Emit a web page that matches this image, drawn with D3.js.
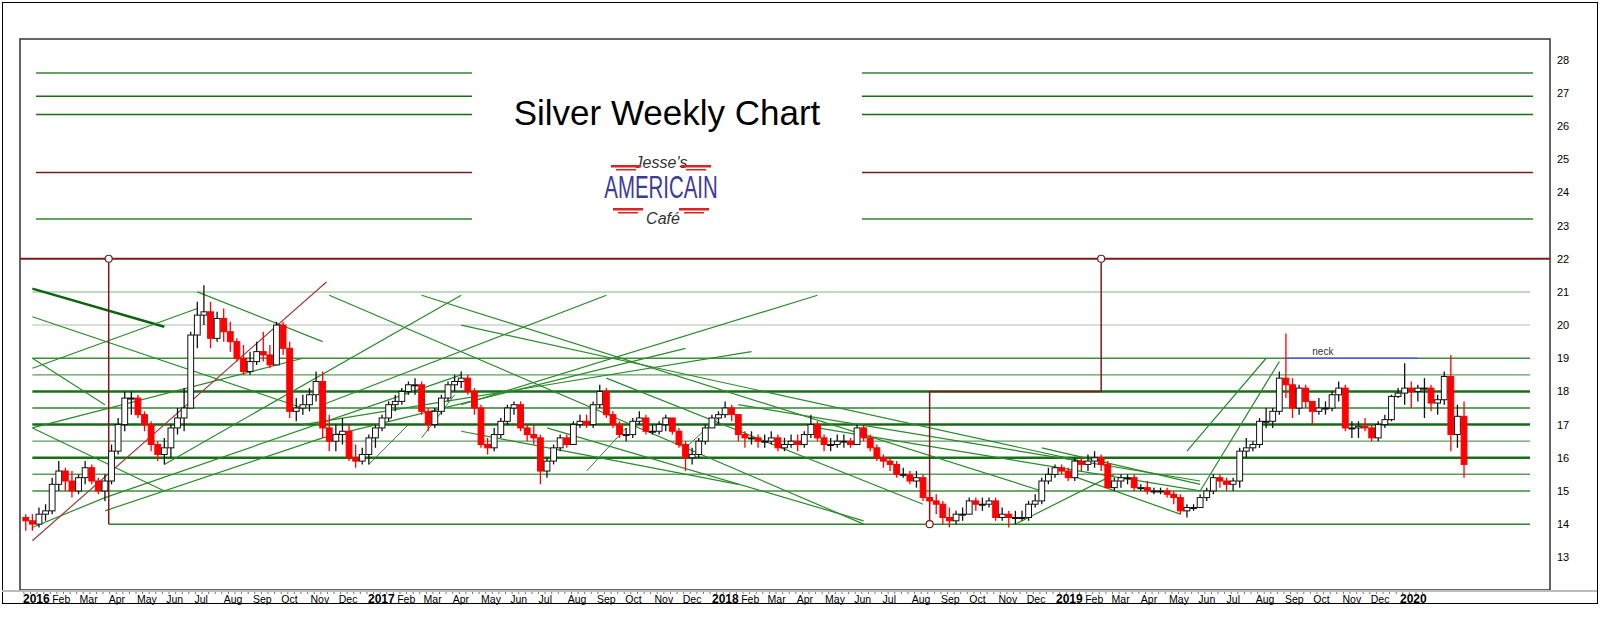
<!DOCTYPE html>
<html>
<head>
<meta charset="utf-8">
<script src="https://cdn.jsdelivr.net/npm/d3@7"></script>
<style>
  body { margin: 0; background: #fff; }
  text { font-family: "Liberation Sans", Arial, sans-serif; }
</style>
</head>
<body>
<div id="chart"></div>
<script>
// weekly closes, Jan 8 2016 .. Mar 13 2020 (Friday closes)
var closes = [
  14.1,14.0,14.3,14.4,15.2,15.6,15.3,15.0,15.4,15.7,15.3,15.0,15.3,16.2,17.0,17.8,17.8,17.3,17.0,16.4,16.1,16.3,16.9,17.2,17.5,19.7,20.3,20.4,19.6,20.2,19.8,19.5,19.0,18.6,18.9,19.2,19.1,18.8,20.0,19.3,17.4,17.5,17.6,17.9,18.3,16.9,16.5,16.7,16.8,16.0,15.9,16.1,
  16.6,16.9,17.2,17.6,17.7,18.0,18.2,18.2,17.4,17.0,17.4,17.8,18.2,18.3,18.4,18.0,17.5,16.4,16.3,16.7,17.1,17.5,17.6,16.9,16.7,16.6,15.6,15.9,16.3,16.6,16.4,17.0,17.1,17.0,17.6,18.0,17.3,17.0,16.7,16.7,17.1,17.2,16.8,16.8,17.0,17.2,16.8,16.4,16.0,16.1,16.5,16.9,
  17.2,17.3,17.5,17.3,16.7,16.6,16.6,16.5,16.5,16.6,16.3,16.4,16.5,16.4,16.7,17.0,16.6,16.4,16.4,16.5,16.5,16.4,16.9,16.6,16.3,16.0,15.9,15.8,15.5,15.5,15.3,15.4,14.8,14.7,14.6,14.2,14.1,14.3,14.3,14.7,14.6,14.6,14.7,14.2,14.3,14.2,14.2,14.2,14.6,14.7,15.3,15.5,
  15.7,15.6,15.4,15.9,15.8,15.9,16.0,15.8,15.1,15.3,15.4,15.4,15.1,15.1,15.0,15.0,15.0,14.9,14.8,14.4,14.5,14.5,14.8,15.0,15.4,15.3,15.2,15.3,16.2,16.3,16.4,17.1,17.1,17.4,18.4,18.2,17.5,18.1,17.7,17.4,17.5,17.5,17.9,18.1,16.9,16.9,16.95,16.9,16.6,17.0,17.15,17.85,
  17.95,18.1,18.0,18.1,18.1,17.65,17.75,18.45,16.7,17.25,15.8
];
var highs = [
  14.3,14.3,14.5,14.6,15.4,15.9,15.7,15.6,15.5,15.9,15.8,15.4,15.5,16.4,17.2,18.0,18.0,17.9,17.4,17.1,16.5,16.6,17.0,17.5,18.1,19.8,20.7,21.2,20.7,20.4,20.5,20.1,19.6,19.4,19.2,19.5,19.8,19.4,20.1,20.1,19.5,17.8,17.9,18.1,18.6,18.6,17.3,17.0,17.2,17.0,16.4,16.3,
  16.7,17.0,17.3,17.7,17.9,18.1,18.3,18.4,18.3,17.5,17.5,17.9,18.3,18.5,18.6,18.5,18.1,17.6,16.6,16.9,17.2,17.6,17.7,17.7,17.0,17.0,16.7,16.0,16.4,16.7,16.7,17.1,17.3,17.3,17.7,18.2,18.1,17.4,17.1,16.9,17.2,17.4,17.3,17.0,17.1,17.3,17.2,16.9,16.5,16.3,16.6,17.0,
  17.3,17.4,17.7,17.6,17.3,16.8,16.8,16.7,16.7,16.8,16.7,16.6,16.7,16.7,16.8,17.3,17.1,16.7,16.6,16.7,16.7,16.6,17.0,17.0,16.7,16.4,16.1,16.0,15.9,15.7,15.6,15.6,15.5,15.0,14.9,14.7,14.5,14.4,14.5,14.8,14.8,14.8,14.8,14.8,14.5,14.4,14.4,14.4,14.7,14.9,15.4,15.7,
  15.8,15.8,15.7,16.0,16.0,16.1,16.2,16.1,15.9,15.4,15.5,15.5,15.5,15.2,15.3,15.1,15.1,15.1,15.0,14.9,14.6,14.6,14.9,15.1,15.5,15.5,15.4,15.4,16.3,16.6,16.5,17.2,17.5,17.5,18.6,19.75,18.4,18.2,18.2,17.7,17.8,17.7,18.0,18.3,18.2,17.1,17.1,17.2,17.0,17.1,17.3,17.9,
  18.1,18.85,18.3,18.2,18.4,18.2,17.9,18.6,19.1,17.6,17.7
];
var lows = [
  13.8,13.8,13.9,14.1,14.3,15.0,15.0,14.8,14.9,15.2,15.2,14.9,14.7,15.2,16.1,16.8,17.3,17.2,16.8,16.2,15.9,15.8,16.0,16.7,16.8,17.5,19.3,20.0,19.3,19.5,19.5,19.2,18.9,18.5,18.5,18.8,18.9,18.7,18.8,19.1,17.2,17.1,17.3,17.4,17.7,16.6,16.2,16.2,16.4,15.9,15.7,15.8,
  15.8,16.3,16.8,17.1,17.4,17.6,17.9,17.9,17.3,16.8,16.9,17.3,17.7,18.0,18.1,17.9,17.3,16.3,16.1,16.2,16.6,17.0,17.3,16.8,16.5,16.4,15.2,15.4,15.8,16.2,16.3,16.4,16.9,16.9,16.9,17.5,17.2,16.9,16.6,16.5,16.6,17.0,16.7,16.7,16.7,16.8,16.7,16.3,15.6,15.8,16.0,16.4,
  16.9,17.0,17.2,17.1,16.5,16.3,16.4,16.3,16.3,16.4,16.2,16.2,16.3,16.2,16.3,16.6,16.5,16.2,16.2,16.3,16.3,16.3,16.4,16.5,16.2,15.9,15.7,15.6,15.4,15.4,15.2,15.1,14.7,14.6,14.3,14.0,13.9,14.0,14.1,14.3,14.4,14.4,14.5,14.1,14.1,13.9,14.0,14.1,14.1,14.5,14.6,15.2,
  15.4,15.5,15.3,15.3,15.6,15.6,15.7,15.6,15.1,15.0,15.1,15.2,15.0,15.0,14.9,14.9,14.9,14.8,14.6,14.3,14.2,14.4,14.5,14.7,14.9,15.1,15.0,15.0,15.1,16.0,16.2,16.3,16.9,16.9,17.3,17.8,17.2,17.3,17.5,17.0,17.3,17.3,17.4,17.7,16.8,16.6,16.6,16.8,16.5,16.5,16.9,17.1,
  17.8,17.6,17.5,17.7,17.2,17.4,17.3,17.6,16.2,16.3,15.4
];
var firstOpen = 14.2;
var lastDate = new Date(2020, 2, 13);
var yTicks = [13,14,15,16,17,18,19,20,21,22,23,24,25,26,27,28];

// support / resistance levels: [price, fromWeek, toWeek, colour, width]
var levels = [
  [21, 1, 228, "#a8cca8", 1.5], [20, 1, 228, "#c8d4c8", 1.5], [19, 1, 228, "#3d8f3d", 1.5],
  [18.5, 1, 228, "#5a9e5a", 1.2], [18, 1, 228, "#1a6e1a", 2.5], [17.5, 1, 228, "#2f852f", 1.5],
  [17, 1, 228, "#156b15", 2.5], [16.5, 1, 228, "#5a9e5a", 1.2], [16, 1, 228, "#167016", 2.5],
  [15.5, 1, 228, "#5a9e5a", 1.5], [15, 1, 228, "#3d8f3d", 1.5], [14, 12.6, 228, "#2f852f", 1.5]
];
// upper levels drawn on both sides of the title
var upperLevels = [27.6, 26.9, 26.35, 24.6, 23.2];
var upperColors = ["#2f852f", "#1a6e1a", "#1a6e1a", "#7b1c1c", "#2f852f"];

// trend lines: [week1, price1, week2, price2, width]
var trends = [
  [1, 21.1, 21, 19.95, 2.5], [1, 20.25, 42, 17.5, 1.2], [1, 19.0, 12, 17.6, 1.2], [1, 16.9, 21, 15.0, 1.2],
  [26, 21.0, 45, 19.5, 1.2], [46, 20.9, 127, 14.0, 1.2], [60, 20.9, 154, 15.0, 1.2], [66, 20.0, 160, 15.9, 1.2],
  [88, 18.4, 136, 14.6, 1.2], [108, 17.6, 178, 15.3, 1.2], [79, 16.9, 127, 14.1, 1.2], [66, 16.8, 108, 15.2, 1.2],
  [120, 16.9, 178, 15.0, 1.2], [154, 16.3, 178, 15.2, 1.2], [158, 15.5, 175, 14.3, 1.2],
  [1, 13.9, 12, 14.8, 1.2], [12, 14.4, 45, 16.6, 1.2], [12, 14.8, 66, 18.5, 1.2], [1, 16.9, 42, 19.0, 1.2],
  [1, 18.7, 26, 20.5, 1.2], [21, 15.8, 66, 20.9, 1.2], [45, 17.6, 88, 20.9, 1.2], [45, 16.6, 100, 19.3, 1.2],
  [66, 17.6, 120, 20.9, 1.2], [42, 17.0, 110, 19.2, 1.2], [150, 14.0, 165, 15.5, 1.2],
  [178, 15.0, 190, 18.9, 1.2], [176, 16.2, 188, 19.0, 1.2], [52, 15.8, 58, 17.0, 1.0], [60, 16.6, 65, 17.9, 1.0],
  [85, 15.6, 91, 16.9, 1.0], [100, 16.3, 106, 17.4, 1.0]
];
var brownPath = [[12.6, 22], [12.6, 14]];
var brownStep = [[163, 22], [163, 18], [137, 18], [137, 14]];
var brownRise = [1, 13.5, 45.5, 21.3];
var neck = [191, 211, 19];

var W = 1600, H = 617;
var svg = d3.select("#chart").append("svg").attr("width", W).attr("height", H);

var plotL = 20, plotR = 1550, plotT = 39, plotB = 590;
var n = closes.length;
var firstDate = d3.timeWeek.offset(lastDate, -(n - 1));
var x = d3.scaleTime().domain([new Date(2016, 0, 1), new Date(2020, 0, 1)]).range([22, 1399]);
var wx = function(i) { return x(d3.timeDay.offset(firstDate, Math.round(i * 7) - 3)); };
var y = d3.scaleLinear().domain([13, 28]).range([557.3, 59.7]);

// frames
svg.append("rect").attr("x", 2.5).attr("y", 2.5).attr("width", 1595).attr("height", 601)
  .attr("fill", "none").attr("stroke", "#000");
svg.append("rect").attr("x", plotL).attr("y", plotT).attr("width", plotR - plotL).attr("height", plotB - plotT)
  .attr("fill", "#fff").attr("stroke", "#333").attr("stroke-width", 1.5);
svg.append("line").attr("x1", 2).attr("x2", 1597).attr("y1", plotB + 1).attr("y2", plotB + 1)
  .attr("stroke", "#bbb").attr("stroke-width", 2);

// y labels
svg.selectAll(".ylab").data(yTicks).enter().append("text")
  .attr("x", plotR + 7).attr("y", function(d) { return y(d) + 4; })
  .attr("font-size", 11).text(function(d) { return d; });

// x axis
var months = d3.timeMonth.range(new Date(2016, 0, 1), new Date(2020, 1, 1));
var xa = svg.append("g");
xa.selectAll("line").data(d3.timeWeek.range(new Date(2016, 0, 1), new Date(2020, 1, 1))).enter().append("line")
  .attr("x1", function(d) { return x(d); }).attr("x2", function(d) { return x(d); })
  .attr("y1", plotB + 2).attr("y2", plotB + 4).attr("stroke", "#777");
xa.selectAll("text").data(months).enter().append("text")
  .attr("x", function(d) { return x(d) + 1; }).attr("y", plotB + 13)
  .attr("font-size", function(d) { return d.getMonth() === 0 ? 12 : 10.5; })
  .attr("font-weight", function(d) { return d.getMonth() === 0 ? "bold" : "normal"; })
  .text(function(d) { return d.getMonth() === 0 ? d3.timeFormat("%Y")(d) : d3.timeFormat("%b")(d); });

var g = svg.append("g");

// upper levels
upperLevels.forEach(function(p, k) {
  [[36, 472], [862, 1533]].forEach(function(r) {
    g.append("line").attr("x1", r[0]).attr("x2", r[1]).attr("y1", y(p)).attr("y2", y(p))
      .attr("stroke", upperColors[k]).attr("stroke-width", 1.5);
  });
});

// levels
g.selectAll(".lvl").data(levels).enter().append("line")
  .attr("x1", function(d) { return wx(d[1]); }).attr("x2", function(d) { return wx(d[2]); })
  .attr("y1", function(d) { return y(d[0]); }).attr("y2", function(d) { return y(d[0]); })
  .attr("stroke", function(d) { return d[3]; }).attr("stroke-width", function(d) { return d[4]; });

// trends
g.selectAll(".tr").data(trends).enter().append("line")
  .attr("x1", function(d) { return wx(d[0]); }).attr("y1", function(d) { return y(d[1]); })
  .attr("x2", function(d) { return wx(d[2]); }).attr("y2", function(d) { return y(d[3]); })
  .attr("stroke", function(d) { return d[4] > 2 ? "#0d620d" : "#2a8a2a"; })
  .attr("stroke-width", function(d) { return d[4]; });

// brown structure
var brown = "#7b1c1c";
g.append("line").attr("x1", plotL).attr("x2", plotR).attr("y1", y(22)).attr("y2", y(22))
  .attr("stroke", brown).attr("stroke-width", 2);
var line = d3.line().x(function(d) { return wx(d[0]); }).y(function(d) { return y(d[1]); });
g.append("path").attr("d", line(brownPath)).attr("fill", "none").attr("stroke", brown).attr("stroke-width", 1.5);
g.append("path").attr("d", line(brownStep)).attr("fill", "none").attr("stroke", brown).attr("stroke-width", 1.5);
g.append("line").attr("x1", wx(brownRise[0])).attr("y1", y(brownRise[1]))
  .attr("x2", wx(brownRise[2])).attr("y2", y(brownRise[3])).attr("stroke", "#9b3b3b").attr("stroke-width", 1.2);
[[12.6, 22], [163, 22], [137, 14]].forEach(function(c) {
  g.append("circle").attr("cx", wx(c[0])).attr("cy", y(c[1])).attr("r", 3.5)
    .attr("fill", "#fff").attr("stroke", brown).attr("stroke-width", 1.2);
});

// neck
g.append("line").attr("x1", wx(neck[0])).attr("x2", wx(neck[1])).attr("y1", y(neck[2])).attr("y2", y(neck[2]))
  .attr("stroke", "#5555ee").attr("stroke-width", 1.5);
g.append("text").attr("x", wx(neck[0] + 4)).attr("y", y(neck[2]) - 3).attr("font-size", 10)
  .attr("fill", "#333").text("neck");

// candles
var candles = closes.map(function(c, i) {
  return { i: i, o: i === 0 ? firstOpen : closes[i - 1], c: c, h: highs[i], l: lows[i] };
});
var cg = g.selectAll(".cd").data(candles).enter().append("g");
cg.append("line")
  .attr("x1", function(d) { return wx(d.i); }).attr("x2", function(d) { return wx(d.i); })
  .attr("y1", function(d) { return y(d.h); }).attr("y2", function(d) { return y(d.l); })
  .attr("stroke", function(d) { return d.c < d.o ? "#ff0000" : "#111"; }).attr("stroke-width", 1.3);
cg.append("rect")
  .attr("x", function(d) { return wx(d.i) - 2.9; }).attr("width", 5.8)
  .attr("y", function(d) { return y(Math.max(d.o, d.c)); })
  .attr("height", function(d) { return Math.max(1, Math.abs(y(d.o) - y(d.c))); })
  .attr("fill", function(d) { return d.c < d.o ? "#ff0000" : "#fff"; })
  .attr("stroke", function(d) { return d.c < d.o ? "#ff0000" : "#111"; }).attr("stroke-width", 1);

// title and logo
svg.append("text").attr("x", 667).attr("y", 125).attr("text-anchor", "middle")
  .attr("font-size", 35).attr("fill", "#000").text("Silver Weekly Chart");
var logo = svg.append("g").attr("transform", "translate(661,0)");
logo.append("text").attr("x", 0).attr("y", 168).attr("text-anchor", "middle")
  .attr("font-family", "DejaVu Serif").attr("font-style", "italic").attr("font-size", 16).attr("fill", "#333").text("Jesse's");
logo.append("text").attr("x", 0).attr("y", 198).attr("text-anchor", "middle")
  .attr("font-family", "DejaVu Sans Condensed").attr("font-size", 24).attr("fill", "#3b3b9b")
  .attr("transform", "translate(0,198) scale(0.85,1.3) translate(0,-198)").text("AMERICAIN");
logo.append("text").attr("x", 2).attr("y", 224).attr("text-anchor", "middle")
  .attr("font-family", "DejaVu Serif").attr("font-style", "italic").attr("font-size", 16).attr("fill", "#333").text("Café");
[[-50, -20, 169], [20, 50, 169], [-48, -18, 212], [18, 48, 212]].forEach(function(b) {
  logo.append("rect").attr("x", b[0]).attr("y", b[2] - 4).attr("width", b[1] - b[0]).attr("height", 2.5).attr("fill", "#d22");
  logo.append("rect").attr("x", b[0] + 5).attr("y", b[2]).attr("width", b[1] - b[0] - 10).attr("height", 1.5).attr("fill", "#d22");
});
</script>
</body>
</html>
